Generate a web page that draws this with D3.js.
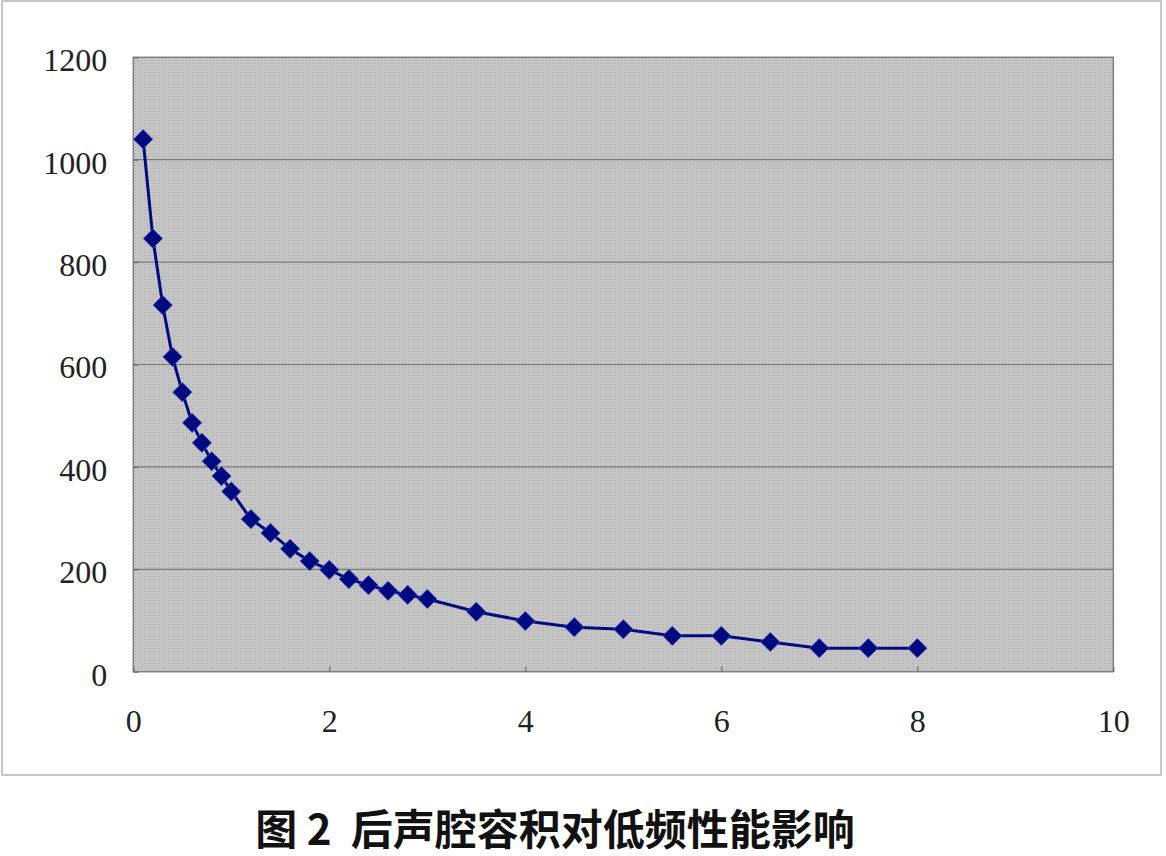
<!DOCTYPE html>
<html>
<head>
<meta charset="utf-8">
<script src="https://cdn.jsdelivr.net/npm/d3@7"></script>
<style>
  body { margin: 0; background: #fff; }
  svg { display: block; }
</style>
</head>
<body>
<script>
// back cavity volume vs low-frequency value
const volume = [0.1, 0.2, 0.3, 0.4, 0.5, 0.6, 0.7, 0.8, 0.9, 1.0,
                1.2, 1.4, 1.6, 1.8, 2.0, 2.2, 2.4, 2.6, 2.8, 3.0,
                3.5, 4.0, 4.5, 5.0, 5.5, 6.0, 6.5, 7.0, 7.5, 8.0];
const freq = [1040, 846, 716, 615, 546, 486, 447, 411, 382, 352,
              298, 271, 240, 216, 199, 181, 169, 158, 150, 142,
              117, 99, 87, 83, 70, 70, 58, 46, 46, 46];
const xTicks = [0, 2, 4, 6, 8, 10];
const yTicks = [0, 200, 400, 600, 800, 1000, 1200];
const title = '图 2  后声腔容积对低频性能影响';

const data = volume.map((v, i) => ({ x: v, y: freq[i] }));

const W = 1166, H = 856;
const svg = d3.select('body').append('svg')
    .attr('width', W)
    .attr('height', H);

// dotted gray fill like the old excel plot area
const defs = svg.append('defs');
const pat = defs.append('pattern')
    .attr('id', 'dots')
    .attr('width', 3)
    .attr('height', 3)
    .attr('patternUnits', 'userSpaceOnUse');
pat.append('rect').attr('width', 3).attr('height', 3).attr('fill', '#c8c8c8');
pat.append('rect').attr('x', 0).attr('y', 0).attr('width', 1).attr('height', 1).attr('fill', '#a9a9a9');
pat.append('rect').attr('x', 1.5).attr('y', 1.5).attr('width', 1).attr('height', 1).attr('fill', '#b4b4b4');

// chart frame
svg.append('rect')
    .attr('x', 2).attr('y', 1)
    .attr('width', 1159).attr('height', 774)
    .attr('fill', '#fff')
    .attr('stroke', '#c8c8c8')
    .attr('stroke-width', 2);

const pLeft = 133.3, pRight = 1113.3, pTop = 57.3, pBottom = 671.7;

const x = d3.scaleLinear().domain([0, 10]).range([pLeft, pRight]);
const y = d3.scaleLinear().domain([0, 1200]).range([pBottom, pTop]);

svg.append('rect')
    .attr('x', pLeft).attr('y', pTop)
    .attr('width', pRight - pLeft).attr('height', pBottom - pTop)
    .attr('fill', 'url(#dots)');

// gridlines
svg.append('g')
    .selectAll('line')
    .data(yTicks.filter(d => d > 0 && d < 1200))
    .enter()
    .append('line')
    .attr('x1', pLeft).attr('x2', pRight)
    .attr('y1', d => y(d)).attr('y2', d => y(d))
    .attr('stroke', '#7a7a7a')
    .attr('stroke-width', 1.2);

svg.append('rect')
    .attr('x', pLeft).attr('y', pTop)
    .attr('width', pRight - pLeft).attr('height', pBottom - pTop)
    .attr('fill', 'none')
    .attr('stroke', '#808080')
    .attr('stroke-width', 1.5);

// axes with small inside ticks
const xAxis = svg.append('g')
    .attr('transform', `translate(0, ${pBottom})`)
    .call(d3.axisBottom(x).tickValues(xTicks).tickFormat(d3.format('d'))
        .tickSizeInner(-5).tickSizeOuter(0).tickPadding(38));
const yAxis = svg.append('g')
    .attr('transform', `translate(${pLeft}, 0)`)
    .call(d3.axisLeft(y).tickValues(yTicks).tickFormat(d3.format('d'))
        .tickSizeInner(-5).tickSizeOuter(0).tickPadding(26));

[xAxis, yAxis].forEach(a => {
    a.select('.domain').remove();
    a.selectAll('line').attr('stroke', '#6a6a6a').attr('stroke-width', 1.2);
    a.selectAll('text')
        .attr('font-family', '"Liberation Serif", "DejaVu Serif", serif')
        .attr('font-size', '32px')
        .attr('fill', '#222');
});
yAxis.selectAll('text').attr('dy', '0.42em');

// line + diamonds
const line = d3.line().x(d => x(d.x)).y(d => y(d.y));
svg.append('path')
    .datum(data)
    .attr('d', line)
    .attr('fill', 'none')
    .attr('stroke', '#000a80')
    .attr('stroke-width', 3);

svg.append('g')
    .selectAll('path')
    .data(data)
    .enter()
    .append('path')
    .attr('d', d3.symbol().type(d3.symbolDiamond2).size(235))
    .attr('transform', d => `translate(${x(d.x)}, ${y(d.y)})`)
    .attr('fill', '#000a80')
    .attr('stroke', '#3a49b8')
    .attr('stroke-width', 0.8);

// caption
svg.append('text')
    .attr('x', 555)
    .attr('y', 845)
    .attr('text-anchor', 'middle')
    .attr('font-family', '"Noto Sans CJK SC", sans-serif')
    .attr('font-weight', 'bold')
    .attr('font-size', '42px')
    .attr('fill', '#111')
    .attr('xml:space', 'preserve')
    .text(title);
</script>
</body>
</html>
